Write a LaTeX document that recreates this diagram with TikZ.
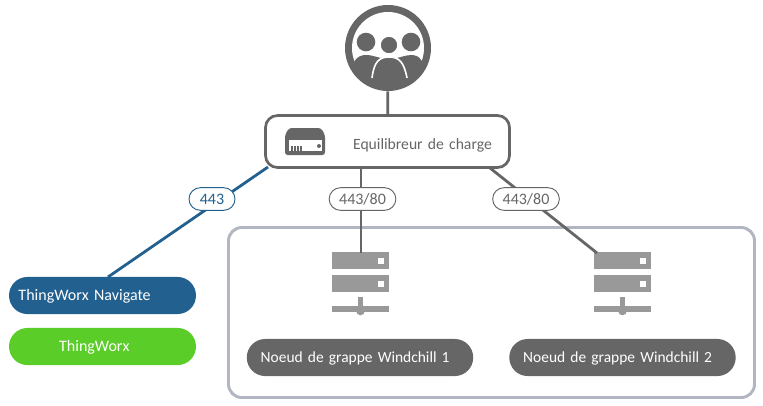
\documentclass[tikz,border=0pt]{standalone}
\usepackage{fontspec}
\setmainfont[WordSpace=0.8]{Carlito}
\usetikzlibrary{positioning, calc}
\definecolor{TW_BLUE}{HTML}{22608F}
\definecolor{TW_GREEN}{HTML}{5ACD28}
\definecolor{DARK_GREY}{HTML}{666666}
\definecolor{SERVER_GREY}{HTML}{999999}
\definecolor{FRAME_GREY}{HTML}{B2B6C2}
\tikzset{
  pill/.style={rectangle, rounded corners=13.8pt, minimum height=27.8pt, inner ysep=0pt,
    text=white, align=left, text height=10.5pt, text depth=2.5pt, font=\fontsize{12}{14}\selectfont},
  navpill/.style={pill, fill=TW_BLUE, text width=126pt, inner xsep=7.1pt},
  greenpill/.style={pill, fill=TW_GREEN, text width=65pt, inner xsep=37.6pt},
  nodepill/.style={pill, fill=DARK_GREY, text width=149pt, inner xsep=10.4pt, font=\fontsize{11.6}{14}\selectfont},
  portlabel/.style={rectangle, rounded corners=8.5pt, draw=DARK_GREY, fill=white, line width=0.7pt,
    minimum height=17pt, inner sep=0pt, text=DARK_GREY, font=\fontsize{12}{14}\selectfont},
  link/.style={line width=2.1pt, DARK_GREY},
  server/.pic={
    \fill[SERVER_GREY] (0,0) rectangle (57,17);
    \fill[SERVER_GREY] (0,23) rectangle (57,40);
    \fill[white] (46,6) rectangle (52,12);
    \fill[white] (46,29) rectangle (52,35);
    \fill[SERVER_GREY] (0,54) rectangle (57,60);
    \fill[SERVER_GREY] (26,45) rectangle (31,58);
    \fill[SERVER_GREY] (28.5,59) circle[radius=4.3];
  }
}
\begin{document}
\begin{tikzpicture}[x=0.75pt, y=-0.75pt]
  \useasboundingbox (0,0) rectangle (763,405);

  % Cluster frame
  \draw[line width=2.2pt, FRAME_GREY, rounded corners=10pt] (228.5,227.5) rectangle (754.5,397.5);

  % Users
  \node[circle, fill=DARK_GREY, minimum size=64.5pt, inner sep=0pt] (users) at (388,48) {};
  \fill[white] (388,48) circle[radius=36];
  \begin{scope}
    \clip (388,48) circle[radius=37];
    \fill[DARK_GREY] (350,77) rectangle (426,90);
    \fill[DARK_GREY] (350,78) .. controls (352,62) and (356,55) .. (366,55)
      .. controls (374,55) and (380,59) .. (389,59)
      .. controls (398,59) and (404,55) .. (411,55)
      .. controls (421,55) and (424,62) .. (426,78) -- cycle;
  \end{scope}
  \fill[DARK_GREY] (366,42) circle[radius=9.3];
  \fill[DARK_GREY] (411,42) circle[radius=9.3];
  \draw[white, line width=1.1pt, fill=DARK_GREY] (389,45) circle[radius=9];
  \draw[white, line width=1.2pt, fill=DARK_GREY] (372,78) .. controls (374,62) and (379,57) .. (389,57)
    .. controls (399,57) and (404,62) .. (407,78);

  % Load balancer
  \node[rectangle, draw=DARK_GREY, line width=2pt, rounded corners=9pt, fill=white,
    minimum width=183pt, minimum height=39pt, text width=156.5pt, inner xsep=13pt, align=right,
    text height=14.5pt, text depth=2.5pt, inner ysep=0pt,
    text=DARK_GREY, font=\fontsize{11.75}{14}\selectfont] (balancer) at (387.5,141.5) {Equilibreur de charge};
  \fill[DARK_GREY, rounded corners=2pt] (285,155) -- (285,135) -- (289,128) -- (321,128) -- (325,135) -- (325,155) -- cycle;
  \fill[white] (289,140) rectangle (322,151);
  \fill[DARK_GREY] (319,146) circle[radius=2];
  \foreach \bx in {291,294,297,300} {
    \fill[DARK_GREY] (\bx,146) rectangle ++(1.5,5);
  }

  % Client pills
  \node[navpill] (nav) at (102.5,295.5) {ThingWorx Navigate};
  \node[greenpill] (thingworx) at (102.5,346.5) {ThingWorx};

  % Cluster nodes
  \pic at (332,252) {server};
  \pic at (594,252) {server};
  \node[nodepill] (node1) at (360,357.5) {Noeud de grappe Windchill 1};
  \node[nodepill] (node2) at (622.5,357.5) {Noeud de grappe Windchill 2};

  % Connector ends
  \coordinate (blueA) at (268,167);
  \coordinate (blueB) at (108,277);
  \coordinate (srvA) at (361,168);
  \coordinate (srvAend) at (361,253);
  \coordinate (srvB) at (490,168);
  \coordinate (srvBend) at (597,253);

  % Connectors
  \draw[link] (users) -- (balancer);
  \draw[link, TW_BLUE] (blueA) -- (blueB);
  \draw[link] (srvA) -- (srvAend);
  \draw[link] (srvB) -- (srvBend);

  % Ports
  \node[portlabel, draw=TW_BLUE, text=TW_BLUE, minimum width=34.5pt] (port443) at (212,199) {443};
  \node[portlabel, minimum width=50pt] (port1) at (362.5,199) {443/80};
  \node[portlabel, minimum width=50pt] (port2) at (526,199) {443/80};
\end{tikzpicture}
\end{document}
